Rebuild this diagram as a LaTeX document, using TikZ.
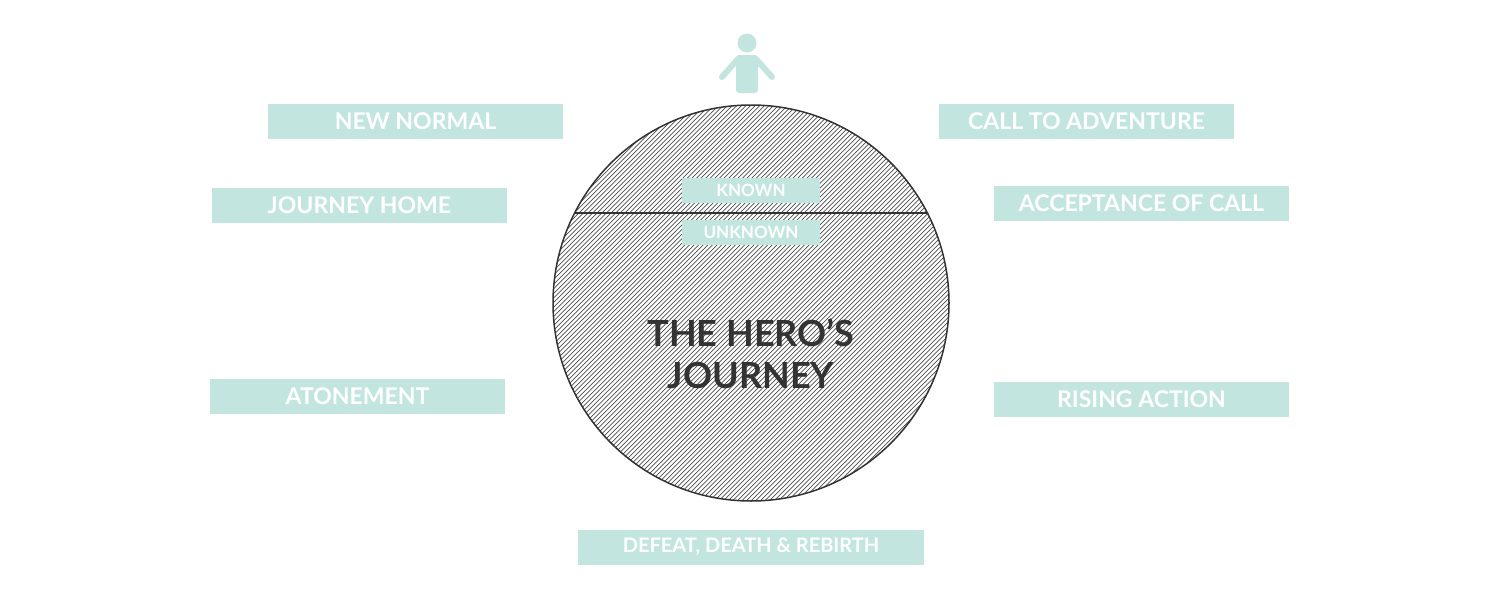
\documentclass[tikz,border=0pt]{standalone}
\usepackage{fontspec}
\setmainfont{Lato}
\usetikzlibrary{calc}
\begin{document}
\begin{tikzpicture}[x=1pt,y=-1pt,
  lab/.style={fill=mint,text=white,font=\bfseries\fontsize{23}{26}\selectfont,minimum width=295pt,minimum height=35pt,inner sep=0pt},
  small/.style={fill=mint,text=white,font=\bfseries\fontsize{17}{19}\selectfont,minimum width=138pt,minimum height=25pt,inner sep=0pt}]
\definecolor{mint}{HTML}{C2E6DF}
\definecolor{dark}{HTML}{333333}
\useasboundingbox (0,0) rectangle (1500,600);
% circle with hatching
\coordinate (c) at (751,303);
\begin{scope}
\clip (c) circle (198);
\foreach \i in {-100,...,100}{
  \draw[line width=0.7pt,color=black!70] ($(c)+(\i*4.6-250,250)$) -- ++(500,-500);
}
\end{scope}
\draw[line width=1.5pt,color=dark] (c) circle (198);
\coordinate (l) at (574,213); \coordinate (r) at (928,213);
\draw[line width=1.5pt,color=dark] (l) -- (r);
% person
\fill[mint] (747,43) circle (9.5);
\fill[mint,rounded corners=3pt] (736,55) rectangle (758,93);
\draw[mint,line width=6pt,line cap=round] (738,59) -- (722,77);
\draw[mint,line width=6pt,line cap=round] (756,59) -- (772,77);
% labels
\node[lab] (nn) at (415.5,121.5) {NEW NORMAL};
\node[lab] (ca) at (1086.5,121.5) {CALL TO ADVENTURE};
\node[lab] (jh) at (359.5,205.5) {JOURNEY HOME};
\node[lab] (ac) at (1141.5,203.5) {ACCEPTANCE OF CALL};
\node[lab] (at) at (357.5,396.5) {ATONEMENT};
\node[lab] (ra) at (1141.5,399.5) {RISING ACTION};
\node[lab,minimum width=346pt,font=\bfseries\fontsize{20}{24}\selectfont] (dd) at (751,547) {DEFEAT, DEATH \& REBIRTH};
\node[small] (kn) at (751,190.5) {KNOWN};
\node[small] (un) at (751,232.5) {UNKNOWN};
\node[text=dark,font=\bfseries\fontsize{36}{42}\selectfont,align=center] (t) at (751,354) {THE HERO’S\\JOURNEY};
\end{tikzpicture}
\end{document}
